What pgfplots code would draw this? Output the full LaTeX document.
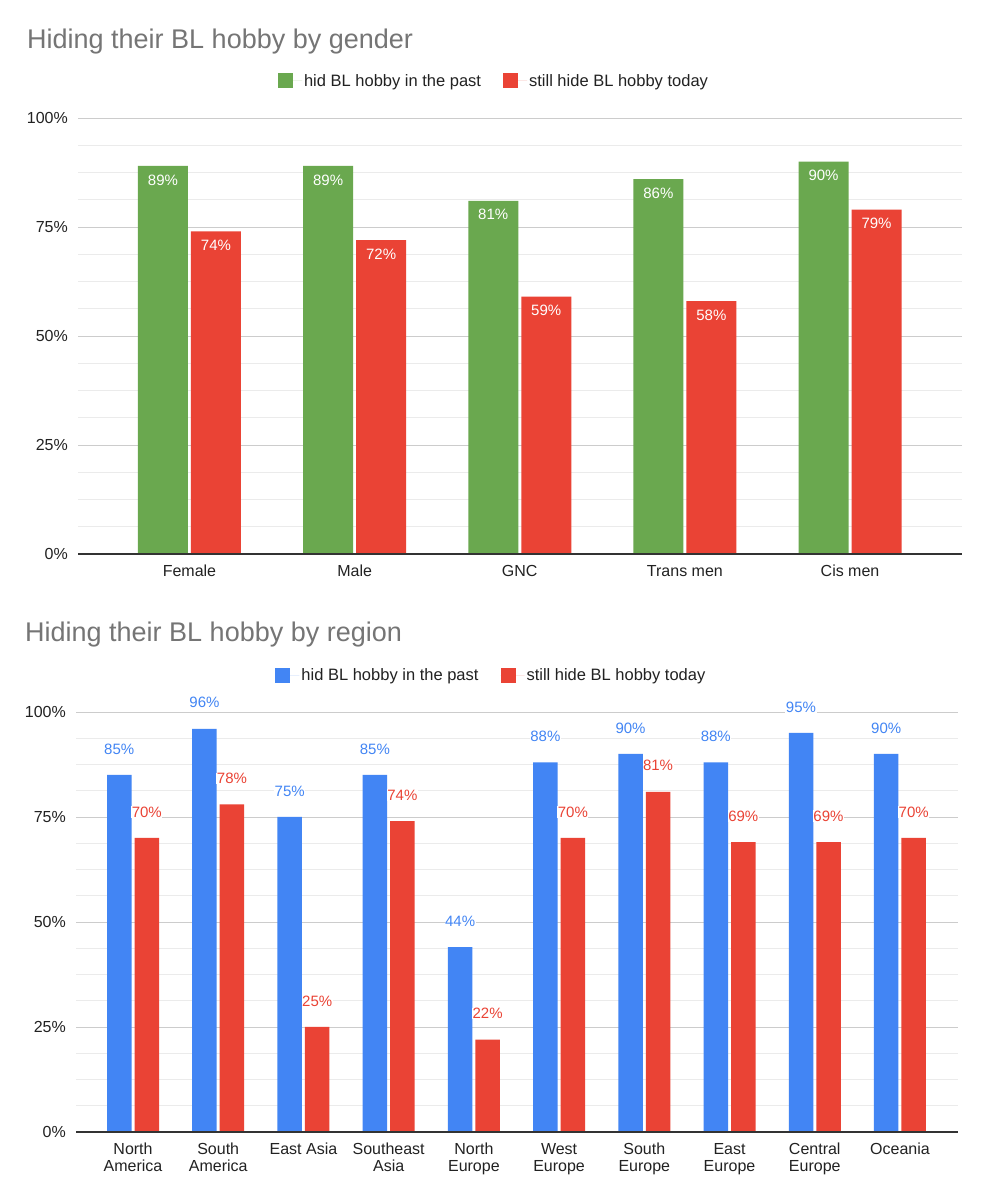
\documentclass[border=0pt]{standalone}
\usepackage{pgfplots}
\pgfplotsset{compat=1.18}
\usepackage{fontspec}
\setmainfont{Liberation Sans}
\definecolor{cgreen}{HTML}{6AA84F}
\definecolor{cred}{HTML}{EA4335}
\definecolor{cblue}{HTML}{4285F4}
\definecolor{ctitle}{HTML}{757575}
\definecolor{ctext}{HTML}{222222}
\definecolor{gmajor}{HTML}{CCCCCC}
\definecolor{gminor}{HTML}{EBEBEB}
\definecolor{caxis}{HTML}{333333}

\pgfplotsset{
  gchart/.style={
    scale only axis, clip=false,
    ymin=0, ymax=100,
    ytick={0,25,50,75,100},
    yticklabels={0\%,25\%,50\%,75\%,100\%},
    minor y tick num=3,
    ymajorgrids, yminorgrids,
    major grid style={draw=gmajor, line width=0.9pt},
    minor grid style={draw=gminor, line width=0.9pt},
    axis line style={draw=none},
    tick style={draw=none},
    major tick length=0pt, minor tick length=0pt,
    xtick=data,
    tick label style={font=\fontsize{16}{17}\selectfont, text=ctext},
    yticklabel style={inner sep=0pt, xshift=-10pt},
    xticklabel style={inner sep=0pt, yshift=-11pt, align=center},
    /pgf/number format/assume math mode=true,
    legend columns=2,
    legend style={draw=none, fill=none, font=\fontsize{16.5}{18}\selectfont,
      text=ctext, anchor=center,
      /tikz/every even column/.append style={column sep=20pt}},
    nodes near coords={\pgfmathprintnumber{\pgfplotspointmeta}\%},
  },
  sqlegend/.style={
    legend image code/.code={\fill[##1, draw=none] (0pt,-7.5pt) rectangle (15pt,7.5pt);
      \path (0pt,0pt) -- (24pt,0pt);},
  },
}

\begin{document}
\begin{tikzpicture}
\path[use as bounding box, fill=white] (0,0) rectangle (986pt,1204pt);

% ---------- Top chart: by gender ----------
\node[anchor=base west, inner sep=0pt, font=\fontsize{27}{30}\selectfont, text=ctitle]
  at (27pt,1155pt) {Hiding their BL hobby by gender};
\begin{axis}[gchart,
  at={(78pt,650pt)}, anchor=south west,
  width=884pt, height=436pt,
  xmin=-0.675, xmax=4.678,
  ybar=3pt, bar width=50pt, sqlegend,
  xticklabels={Female,Male,GNC,Trans men,Cis men},
  legend style={at={(0.4706,1.0849)}},
  every node near coord/.append style={font=\fontsize{15}{16}\selectfont, text=white, anchor=center, yshift=-14pt},
]
\addplot[fill=cgreen, draw=none] coordinates {(0,89) (1,89) (2,81) (3,86) (4,90)};
\addplot[fill=cred, draw=none] coordinates {(0,74) (1,72) (2,59) (3,58) (4,79)};
\legend{hid BL hobby in the past, still hide BL hobby today}
\draw[caxis, line width=1.2pt] (rel axis cs:0,0) -- (rel axis cs:1,0);
\end{axis}

% ---------- Bottom chart: by region ----------
\node[anchor=base west, inner sep=0pt, font=\fontsize{27}{30}\selectfont, text=ctitle]
  at (25pt,562pt) {Hiding their BL hobby by region};
\begin{axis}[gchart,
  at={(76pt,72pt)}, anchor=south west,
  width=882pt, height=420pt,
  xmin=-0.669, xmax=9.681,
  ybar=3pt, bar width=24.5pt, sqlegend,
  xticklabels={North\\America, South\\America, East Asia, Southeast\\Asia, North\\Europe, West\\Europe, South\\Europe, East\\Europe, Central\\Europe, Oceania},
  legend style={at={(0.471,1.088)}},
  every node near coord/.append style={font=\fontsize{15}{16}\selectfont, anchor=center, yshift=26pt, fill=white, inner sep=0.5pt},
]
\addplot[fill=cblue, draw=none, every node near coord/.append style={text=cblue}]
  coordinates {(0,85) (1,96) (2,75) (3,85) (4,44) (5,88) (6,90) (7,88) (8,95) (9,90)};
\addplot[fill=cred, draw=none, every node near coord/.append style={text=cred}]
  coordinates {(0,70) (1,78) (2,25) (3,74) (4,22) (5,70) (6,81) (7,69) (8,69) (9,70)};
\legend{hid BL hobby in the past, still hide BL hobby today}
\draw[caxis, line width=1.2pt] (rel axis cs:0,0) -- (rel axis cs:1,0);
\end{axis}
\end{tikzpicture}
\end{document}
